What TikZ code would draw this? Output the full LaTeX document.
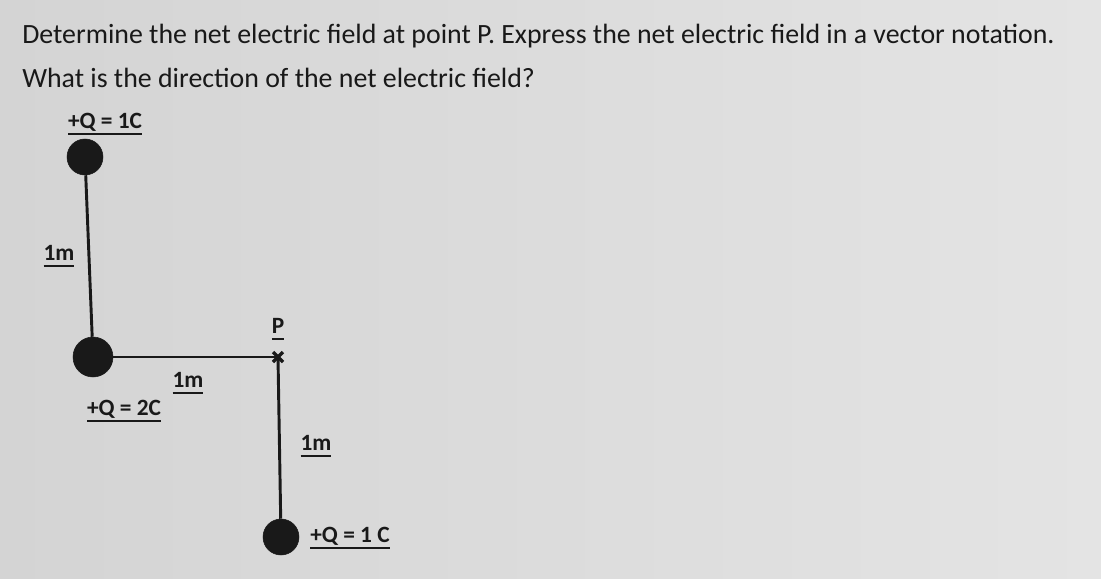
\documentclass[tikz,border=0pt]{standalone}
\usepackage{fontspec}
\setmainfont{Carlito}
\usetikzlibrary{calc}
\newcommand\ulx[1]{\setbox0\hbox{#1}\rlap{\rule[-5pt]{\wd0}{1.5pt}}\box0}
\definecolor{ink}{RGB}{25,25,25}
\definecolor{bgl}{RGB}{212,212,212}
\definecolor{bgr}{RGB}{228,228,228}
\tikzset{
  charge/.style={circle, fill=ink, draw=ink, inner sep=0pt},
  wire/.style={draw=ink, line width=2.2pt},
  lbl/.style={font=\bfseries\fontsize{17.5}{20}\selectfont, text=ink, inner sep=0pt},
  title/.style={font=\fontsize{20.9}{24}\selectfont, text=ink, inner sep=0pt, anchor=base west}
}
\begin{document}
\begin{tikzpicture}[x=0.75pt,y=-0.75pt]
\shade[left color=bgl, right color=bgr] (0,0) rectangle (1101,579);
\useasboundingbox (0,0) rectangle (1101,579);
\node[title] (t1) at (22,43) {Determine the net electric field at point P. Express the net electric field in a vector notation.};
\node[title] (t2) at (22,87) {What is the direction of the net electric field?};
\node[charge, minimum size=27pt] (qa) at (85,157) {};
\node[charge, minimum size=30pt] (qb) at (93,357) {};
\node[charge, minimum size=27pt] (qc) at (281,537) {};
\coordinate (P) at (278,357);
\draw[wire] (qa) -- (qb);
\draw[wire] (qb) -- (P);
\draw[wire] (P) -- (qc);
\draw[draw=ink, line width=2.6pt] ($(P)+(-5,-5)$) -- ($(P)+(5,5)$) ($(P)+(-5,5)$) -- ($(P)+(5,-5)$);
\node[lbl] (l1) at (105,124) {\ulx{+Q = 1C}};
\node[lbl] (l2) at (59,256) {\ulx{1m}};
\node[lbl] (l3) at (278,329) {\ulx{P}};
\node[lbl] (l4) at (188,383) {\ulx{1m}};
\node[lbl] (l5) at (124,411) {\ulx{+Q = 2C}};
\node[lbl] (l6) at (316,446) {\ulx{1m}};
\node[lbl] (l7) at (350,538) {\ulx{+Q = 1 C}};
\end{tikzpicture}
\end{document}
